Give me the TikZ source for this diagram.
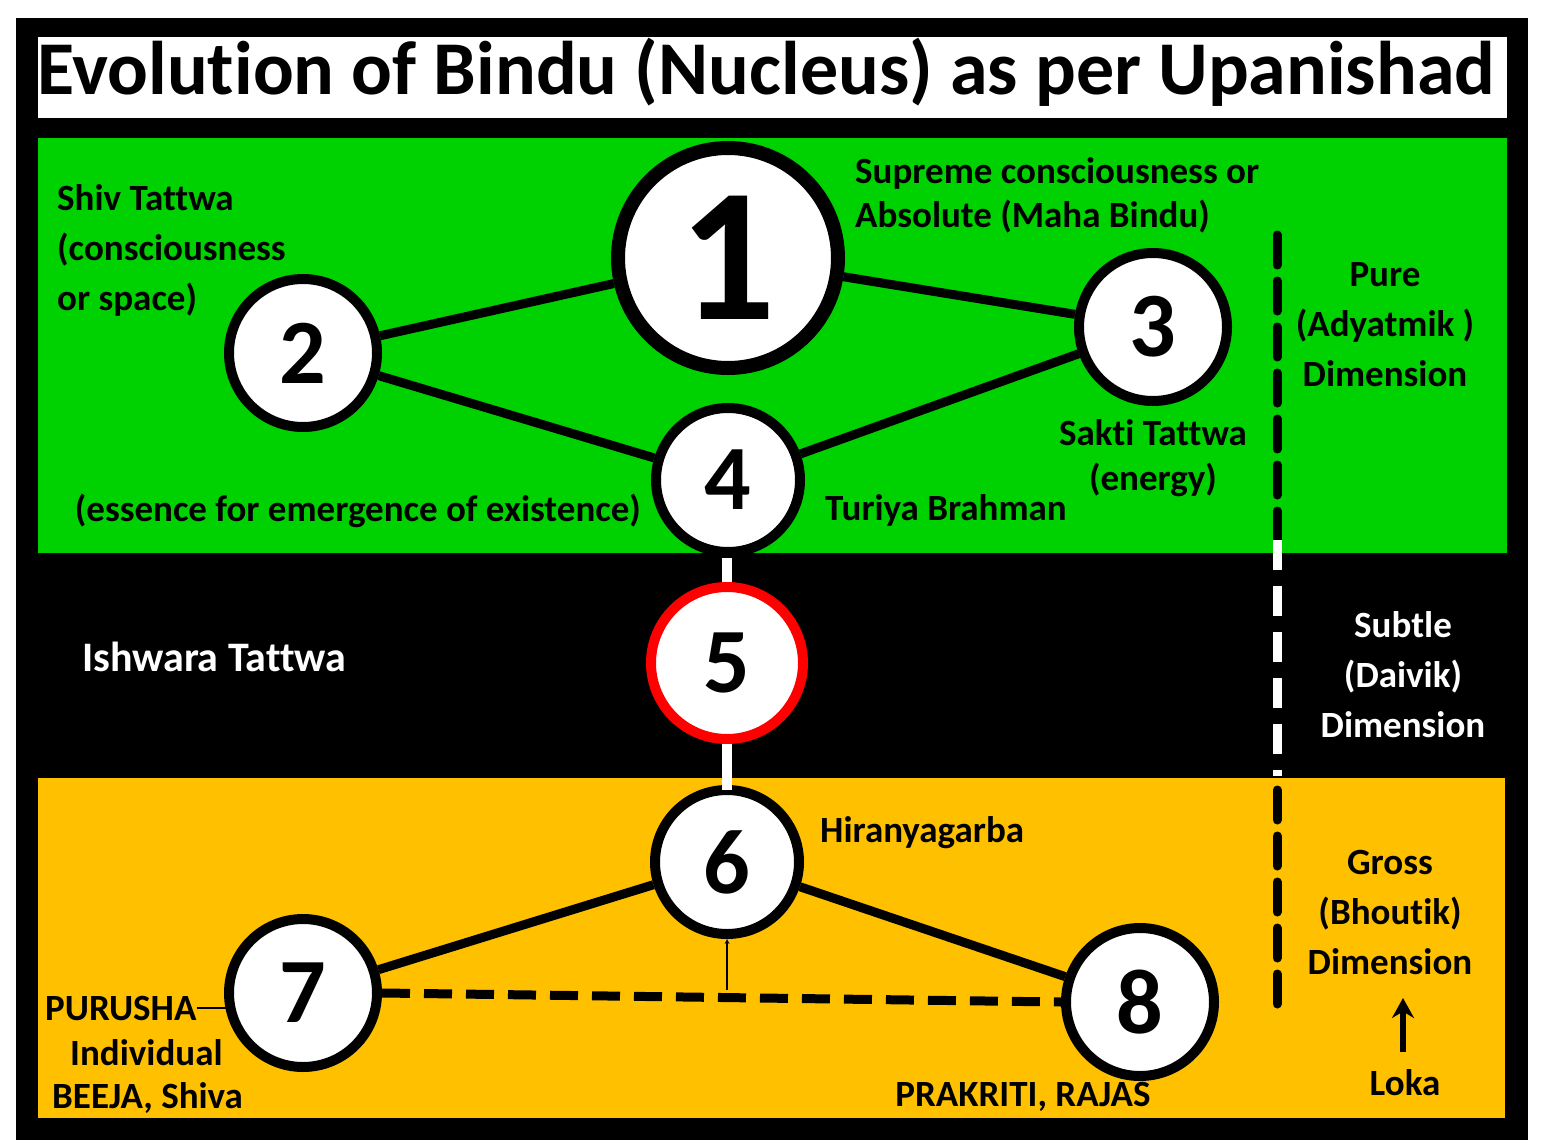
\documentclass[tikz,border=0pt]{standalone}
\usepackage{fontspec}
\usetikzlibrary{arrows.meta}
\setmainfont[Ligatures={NoCommon,NoRequired,NoContextual}]{Carlito}
\begin{document}
\begin{tikzpicture}[x=1pt,y=-1pt,
  circ/.style={circle,draw=black,fill=white,line width=10pt,inner sep=0pt,font=\fontsize{92}{92}\selectfont\bfseries},
  lbl/.style={font=\fontsize{37}{50}\selectfont\bfseries,inner sep=0pt},
  conn/.style={line width=9pt},
  dim/.style={lbl,align=center}]
\useasboundingbox (0,0) rectangle (1551,1143);
\fill[white] (0,0) rectangle (1551,1143);
\fill[black] (16,18) rectangle (1528,1140);
\fill[white] (38,37) rectangle (1507,118);
\fill[green!80!black!90!green] (38,138) rectangle (1507,553);
\fill[black] (38,553) rectangle (1507,776);
\fill[color={rgb,255:red,255;green,192;blue,0}] (38,778) rectangle (1505,1118);
\node[font=\fontsize{76}{76}\selectfont\bfseries] (title) at (766,72) {Evolution of Bindu (Nucleus) as per Upanishad};
% dashed divider
\coordinate (d1) at (1277,235); \coordinate (d2) at (1277,553);
\coordinate (d3) at (1277,776); \coordinate (d4) at (1277,1018);
\draw[line width=9pt,dash pattern=on 30pt off 16pt,line cap=round] (d1) -- (d2);
\draw[white,line width=9pt,dash pattern=on 30pt off 16pt] (1277,540) -- (d3);
\draw[line width=9pt,dash pattern=on 30pt off 16pt,line cap=round] (1277,790) -- (d4);
% nodes
\node[circ,minimum size=220pt,line width=14pt,font=\fontsize{190}{190}\selectfont\bfseries] (n1) at (728,258) {1};
\node[circ,minimum size=148pt] (n2) at (303,353) {2};
\node[circ,minimum size=148pt] (n3) at (1153,327) {3};
\node[circ,minimum size=144pt] (n4) at (728,480) {4};
\node[circ,draw=red,minimum size=152pt] (n5) at (727,663) {5};
\node[circ,minimum size=144pt] (n6) at (727,862) {6};
\node[circ,minimum size=148pt] (n7) at (303,993) {7};
\node[circ,minimum size=148pt] (n8) at (1140,1002) {8};
\draw[conn] (n2) -- (n1); \draw[conn] (n1) -- (n3);
\draw[conn] (n2) -- (n4); \draw[conn] (n4) -- (n3);
\draw[conn] (n7) -- (n6); \draw[conn] (n6) -- (n8);
\draw[conn,dash pattern=on 28pt off 14pt] (n7.east) -- (n8.west);
\draw[white,line width=10pt] (727,558) -- (n5.north);
\draw[white,line width=10pt] (n5.south) -- (727,790);
\coordinate (ab) at (727,990);
\draw[line width=1.2pt,-stealth] (ab) -- (n6.south);
% labels
\node[lbl,anchor=west] at (855,173) {Supreme consciousness or};
\node[lbl,anchor=west] at (855,217) {Absolute (Maha Bindu)};
\node[lbl,anchor=west,align=left] at (57,250) {Shiv Tattwa\\(consciousness\\or space)};
\node[dim] at (1385,325) {Pure\\(Adyatmik )\\Dimension};
\node[lbl,align=center,font=\fontsize{37}{45}\selectfont\bfseries] at (1153,458) {Sakti Tattwa\\(energy)};
\node[lbl] at (358,511) {(essence for emergence of existence)};
\node[lbl,anchor=west] at (825,510) {Turiya Brahman};
\node[lbl,anchor=west,text=white,font=\fontsize{42}{44}\selectfont\bfseries] at (82,657) {Ishwara Tattwa};
\node[dim,text=white] at (1403,675) {Subtle\\(Daivik)\\Dimension};
\node[lbl,anchor=west] at (820,833) {Hiranyagarba};
\node[dim] at (1390,912) {Gross\\(Bhoutik)\\Dimension};
\coordinate (la) at (1403,1052); \coordinate (lb) at (1403,998);
\draw[line width=6pt,-{Stealth[length=20pt,width=22pt]}] (la) -- (lb);
\node[lbl] at (1405,1083) {Loka};
\node[lbl,anchor=west] (pu) at (45,1008) {PURUSHA};
\coordinate (pe) at (230,1008);
\draw[line width=2.5pt] (pu.east) -- (pe);
\node[lbl,anchor=west] at (70,1053) {Individual};
\node[lbl,anchor=west] at (52,1098) {BEEJA, Shiva};
\node[lbl] at (1023,1097) {PRAKRITI, RAJAS};
\end{tikzpicture}
\end{document}
